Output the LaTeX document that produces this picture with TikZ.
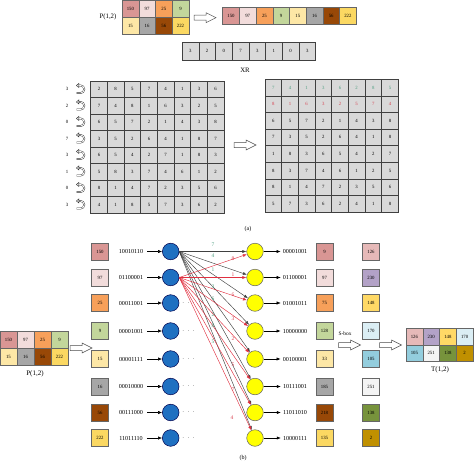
\documentclass[tikz,border=0pt]{standalone}
\usepackage{fontspec}
\setmainfont{Liberation Serif}
\usetikzlibrary{arrows.meta}
\definecolor{c150}{HTML}{D99694}
\definecolor{c97}{HTML}{F2DCDB}
\definecolor{c25}{HTML}{F7A05A}
\definecolor{c9}{HTML}{C3D69B}
\definecolor{c15}{HTML}{FDE7A6}
\definecolor{c16}{HTML}{A6A6A6}
\definecolor{c56}{HTML}{984807}
\definecolor{c222}{HTML}{FBD862}
\definecolor{s126}{HTML}{E6B9B8}
\definecolor{s230}{HTML}{B3A2C7}
\definecolor{s148}{HTML}{FFD966}
\definecolor{s170}{HTML}{DBEEF4}
\definecolor{s105}{HTML}{93CDDD}
\definecolor{s251}{HTML}{F4F4F4}
\definecolor{s138}{HTML}{77933C}
\definecolor{s2}{HTML}{C09000}
\definecolor{tgreen}{HTML}{4E9E80}
\definecolor{tred}{HTML}{D8404F}
\definecolor{cblue}{HTML}{1F70C1}
\definecolor{cyel}{HTML}{FFFF00}
\definecolor{lred}{HTML}{E03040}
\newcommand\fsz[1]{\fontsize{#1}{#1}\selectfont}
\begin{document}
\begin{tikzpicture}[x=1pt,y=-1pt,
  cell/.style={draw=black!60, line width=0.5pt, minimum width=16.7pt, minimum height=16.7pt, inner sep=0pt, font=\fsz{4.8}},
  gcell/.style={cell, fill=black!15, draw=black!75, minimum height=16.6pt, font=\fsz{4.8}},
  lab/.style={inner sep=0pt, font=\fsz{6.8}},
  bin/.style={inner sep=1pt, font=\fsz{6.1}},
  rlab/.style={inner sep=0pt, font=\fsz{4.8}},
  flab/.style={inner sep=0pt, font=\fsz{5.5}},
  blue/.style={circle, draw=black!70!blue, fill=cblue, line width=0.5pt, minimum size=16.6pt, inner sep=0pt},
  yel/.style={circle, draw=black!60, fill=cyel, line width=0.5pt, minimum size=16.6pt, inner sep=0pt},
  arr/.style={-{Latex[length=4pt,width=3.2pt]}, line width=0.5pt, black},
  blk/.style={-{Latex[length=4pt,width=3pt]}, line width=0.45pt, black!75},
  redl/.style={-{Latex[length=4pt,width=3pt]}, line width=0.45pt, lred},
  icon/.style={black!80, line width=0.45pt, double=white, double distance=0.8pt, -{Triangle[open,length=3pt,width=4.8pt]}},
  harrow/.pic={\draw[black!70, fill=white, line width=0.5pt] (0,-2.5) -- (12,-2.5) -- (12,-5) -- (22,0) -- (12,5) -- (12,2.5) -- (0,2.5) -- cycle;}
]
\useasboundingbox (0,0) rectangle (474,466);

% ---------- (a) top part ----------
\node[lab] (p1lab) at (108,17) {P(1,2)};
\foreach \v/\c [count=\i from 0] in {150/c150,97/c97,25/c25,9/c9}
  \node[cell, fill=\c] (pa\i) at (130.4+16.7*\i, 9) {\v};
\foreach \v/\c [count=\i from 0] in {15/c15,16/c16,56/c56,222/c222}
  \node[cell, fill=\c] (pb\i) at (130.4+16.7*\i, 25.7) {\v};
\pic (ha1) at (194,17.7) {harrow};
\foreach \v/\c [count=\i from 0] in {150/c150,97/c97,25/c25,9/c9,15/c15,16/c16,56/c56,222/c222}
  \node[cell, fill=\c] (r\i) at (231+16.7*\i, 15.8) {\v};
\foreach \v [count=\i from 0] in {3,2,0,7,3,1,0,3}
  \node[gcell, minimum height=17.3pt, font=\fsz{4.8}] (xr\i) at (190.4+16.7*\i, 51.3) {\v};
\node[lab] (xrlab) at (245,70.5) {XR};

% left grid
\foreach \row [count=\j from 0] in {{2,8,5,7,4,1,3,6},{7,4,8,1,6,3,2,5},{6,5,7,2,1,4,3,8},{3,5,2,6,4,1,8,7},{6,5,4,2,7,1,8,3},{5,8,3,7,4,6,1,2},{8,1,4,7,2,3,5,6},{4,1,8,5,7,3,6,2}}
  \foreach \v [count=\i from 0] in \row
    \node[gcell] (L\j\i) at (99+16.67*\i, 89.25+16.5*\j) {\v};
% row labels and rotation icons
\foreach \v [count=\j from 0] in {3,2,0,7,3,1,0,3} {
  \pgfmathsetmacro\yy{89.25+16.5*\j}
  \node[rlab] (rl\j) at (67,\yy) {\v};
  \draw[icon] (76.5,\yy+3.8) -- (80.5,\yy+3.8) arc[start angle=90,end angle=-90,radius=3.8] -- (76,\yy-3.8);
}
\pic (ha2) at (234,145) {harrow};
% right grid
\foreach \row/\tc [count=\j from 0] in {{7,4,1,3,6,2,8,5}/tgreen,{8,1,6,3,2,5,7,4}/tred,{6,5,7,2,1,4,3,8}/black,{7,3,5,2,6,4,1,8}/black,{1,8,3,6,5,4,2,7}/black,{8,3,7,4,6,1,2,5}/black,{8,1,4,7,2,3,5,6}/black,{5,7,3,6,2,4,1,8}/black}
  \foreach \v [count=\i from 0] in \row
    \node[gcell, text=\tc] (R\j\i) at (273.3+16.67*\i, 87.6+16.6*\j) {\v};
\node[lab, font=\fsz{6}] (alab) at (248,229.5) {(a)};

% ---------- (b) bottom part ----------
\foreach \v/\c [count=\i from 0] in {150/c150,97/c97,25/c25,9/c9}
  \node[cell, fill=\c, minimum width=17pt] (qa\i) at (8.5+17*\i, 340) {\v};
\foreach \v/\c [count=\i from 0] in {15/c15,16/c16,56/c56,222/c222}
  \node[cell, fill=\c, minimum width=17pt] (qb\i) at (8.5+17*\i, 356.7) {\v};
\node[lab, font=\fsz{7}] (p2lab) at (35,373.5) {P(1,2)};
\pic (ha3) at (70,348) {harrow};

\foreach \v/\b/\c/\yy [count=\k] in {150/10010110/c150/251.5,97/01100001/c97/277.5,25/00011001/c25/303,9/00001001/c9/331,15/00001111/c15/359,16/00010000/c16/386.5,56/00111000/c56/412.5,222/11011110/c222/438} {
  \node[cell, fill=\c] (sq\k) at (100,\yy) {\v};
  \node[bin] (bin\k) at (131,\yy) {\b};
  \node[blue] (b\k) at (170.7,\yy) {};
  \draw[arr, shorten <=3pt] (bin\k.east) -- (b\k.west);
}
\foreach \k/\yy in {3/303,4/331,5/359,6/386.5,7/412.5,8/438}
  \node[inner sep=0pt, font=\fsz{6}] (dots\k) at (188.5,\yy) {$\cdot\,\cdot\,\cdot$};

\foreach \b/\c/\v/\sc/\sv/\yy [count=\k] in {00001001/c150/9/s126/126/251.5,01100001/c97/97/s230/230/277.5,01001011/c25/75/s148/148/303,10000000/c9/128/s170/170/331,00100001/c15/33/s105/105/359,10111001/c16/185/s251/251/386.5,11011010/c56/218/s138/138/412.5,10000111/c222/135/s2/2/438} {
  \node[yel] (y\k) at (255,\yy) {};
  \node[bin] (bo\k) at (295,\yy) {\b};
  \node[cell, fill=\c] (o\k) at (324.5,\yy) {\v};
  \node[cell, fill=\sc] (s\k) at (371,\yy) {\sv};
  \draw[arr] (y\k.east) -- ([xshift=-1pt]bo\k.west);
}
% fan connectors
\foreach \k in {1,...,8}
  \draw[blk] (b1.east) -- (y\k);
\foreach \k in {1,...,8}
  \draw[redl] (b2.east) -- (y\k);
% labels on connectors
\foreach \v/\yy [count=\k] in {7/244.3,4/255.7,1/270,3/286.7,6/298.3,2/315,8/325.7,5/341.7}
  \node[flab, text=tgreen] (gl\k) at (213,\yy) {\v};
\foreach \v/\xx/\yy [count=\k] in {8/233/258.3,1/233/274.5,6/233/295,3/233/318.3,2/233/338.3,5/233/365,7/233/390,4/232/417.7}
  \node[flab, text=tred] (rdl\k) at (\xx,\yy) {\v};

\node[lab, font=\fsz{5.4}] (sboxlab) at (345,333.5) {S-box};
\pic (ha4) at (338.5,345) {harrow};
\pic (ha5) at (379.5,345) {harrow};
\foreach \v/\c [count=\i from 0] in {126/s126,230/s230,148/s148,170/s170}
  \node[cell, fill=\c, minimum width=16.75pt] (ta\i) at (414.4+16.75*\i, 336.5) {\v};
\foreach \v/\c [count=\i from 0] in {105/s105,251/s251,138/s138,2/s2}
  \node[cell, fill=\c, minimum width=16.75pt] (tb\i) at (414.4+16.75*\i, 353.2) {\v};
\node[lab, font=\fsz{7}] (tlab) at (440,369.5) {T(1,2)};
\node[lab, font=\fsz{6}] (blab) at (243,458) {(b)};
\end{tikzpicture}
\end{document}
